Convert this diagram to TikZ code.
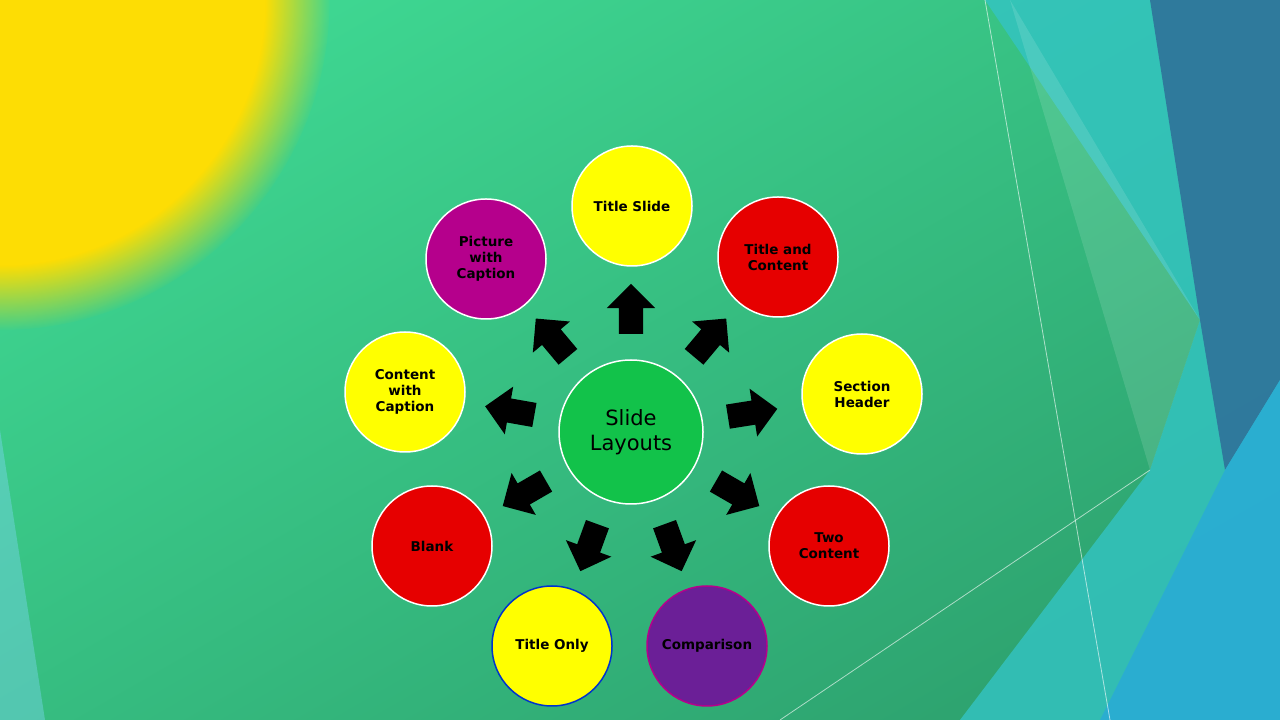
\documentclass[tikz,border=0pt]{standalone}
\usepackage{fontspec}
\setmainfont{DejaVu Sans}
\usetikzlibrary{shapes.arrows,fadings}
\definecolor{bgA}{HTML}{3ED691}
\definecolor{bgB}{HTML}{2EA470}
\definecolor{cyel}{HTML}{FFFF00}
\definecolor{cred}{HTML}{E60000}
\definecolor{cmag}{HTML}{B5008C}
\definecolor{cpur}{HTML}{6B1F97}
\definecolor{cgrn}{HTML}{12C24A}
\definecolor{tealA}{HTML}{33C4C4}
\definecolor{blueD}{HTML}{2F6E98}
\definecolor{blueB}{HTML}{29AAD8}
\begin{document}
\begin{tikzpicture}[x=1pt,y=1pt,
  bubble/.style={circle,draw=white,line width=1.5pt,minimum size=120pt,inner sep=0pt,align=center,font=\bfseries\fontsize{13.5}{16}\selectfont},
  arr/.style={single arrow,fill=black,minimum height=50pt,minimum width=48pt,inner sep=12pt,single arrow head extend=12pt,draw=none}]
\useasboundingbox (0,0) rectangle (1280,720);
\shade[shading=axis,top color=bgA,bottom color=bgB,shading angle=30] (0,0) rectangle (1280,720);
\fill[yellow!80!orange,path fading=circle with fuzzy edge 20 percent] (0,720) circle (330);
\fill[tealA,opacity=0.8] (985,720) -- (1280,720) -- (1280,0) -- (960,0) -- (1150,250) -- (1200,400) -- cycle;
\fill[blueD,opacity=0.85] (1150,720) -- (1280,720) -- (1280,340) -- (1225,250) -- (1200,400) -- cycle;
\fill[blueB,opacity=0.8] (1280,340) -- (1280,0) -- (1100,0) -- (1225,250) -- cycle;
\fill[white,opacity=0.12] (1010,720) -- (1150,250) -- (1200,400) -- cycle;
\fill[cyan!50!white,opacity=0.4] (0,290) -- (45,0) -- (0,0) -- cycle;
\draw[white,opacity=0.6,line width=0.8pt] (985,720) -- (1110,0);
\draw[white,opacity=0.6,line width=0.8pt] (780,0) -- (1150,250);
\node[bubble,fill=cgrn,minimum size=144pt,font=\fontsize{21}{25}\selectfont] (c) at (631,288) {Slide\\Layouts};
\node[bubble,fill=cyel] (ts) at (632,514) {Title Slide};
\node[bubble,fill=cred] (tc) at (778,463) {Title and\\Content};
\node[bubble,fill=cyel] (sh) at (862,326) {Section\\Header};
\node[bubble,fill=cred] (twc) at (829,174) {Two\\Content};
\node[bubble,fill=cpur,draw=cmag] (cmp) at (707,74) {Comparison};
\node[bubble,fill=cyel,draw=blue!60!teal] (to) at (552,74) {Title Only};
\node[bubble,fill=cred] (bl) at (432,174) {Blank};
\node[bubble,fill=cyel] (cwc) at (405,328) {Content\\with\\Caption};
\node[bubble,fill=cmag] (pwc) at (486,461) {Picture\\with\\Caption};
\foreach \a/\n in {90/ts,50/tc,9/sh,-30/twc,-70/cmp,-110/to,-150/bl,170/cwc,130/pwc}
  \node[arr,rotate=\a] (a\n) at ([shift={(\a:117)}]c) {};
\end{tikzpicture}
\end{document}
